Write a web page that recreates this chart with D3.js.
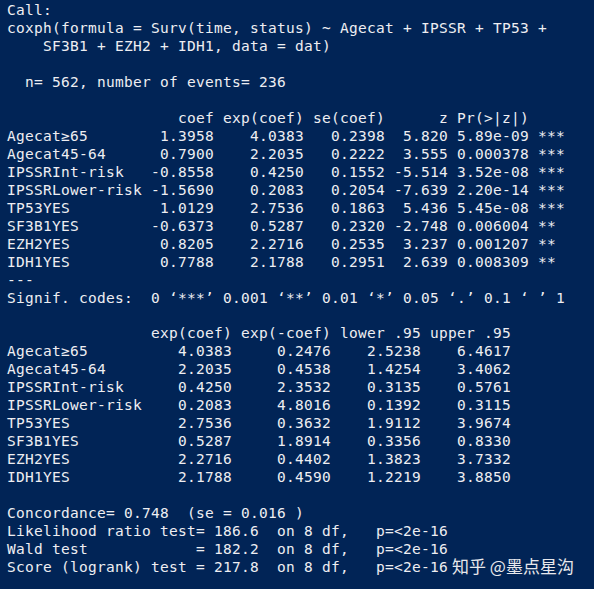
<!DOCTYPE html>
<html><head><meta charset="utf-8">
<script src="https://cdn.jsdelivr.net/npm/d3@7"></script>
<style>body{margin:0;background:#012456;}</style>
</head><body><div id="canvas"></div>
<script>
// coefficient table
const terms = ["Agecat≥65","Agecat45-64","IPSSRInt-risk","IPSSRLower-risk","TP53YES","SF3B1YES","EZH2YES","IDH1YES"];
const coef = ["1.3958","0.7900","-0.8558","-1.5690","1.0129","-0.6373","0.8205","0.7788"];
const expCoef = ["4.0383","2.2035","0.4250","0.2083","2.7536","0.5287","2.2716","2.1788"];
const seCoef = ["0.2398","0.2222","0.1552","0.2054","0.1863","0.2320","0.2535","0.2951"];
const zVal = ["5.820","3.555","-5.514","-7.639","5.436","-2.748","3.237","2.639"];
const pVal = ["5.89e-09","0.000378","3.52e-08","2.20e-14","5.45e-08","0.006004","0.001207","0.008309"];
const stars = ["***","***","***","***","***","**","**","**"];
// confidence table
const expNeg = ["0.2476","0.4538","2.3532","4.8016","0.3632","1.8914","0.4402","0.4590"];
const lower95 = ["2.5238","1.4254","0.3135","0.1392","1.9112","0.3356","1.3823","1.2219"];
const upper95 = ["6.4617","3.4062","0.5761","0.3115","3.9674","0.8330","3.7332","3.8850"];

const cellW = 9, lineH = 17.97, x0 = 7, y0 = 15;
const lp = (s, w) => " ".repeat(Math.max(0, w - s.length)) + s;
const rp = (s, w) => s + " ".repeat(Math.max(0, w - s.length));

const lines = ["Call:",
  "coxph(formula = Surv(time, status) ~ Agecat + IPSSR + TP53 +",
  "    SF3B1 + EZH2 + IDH1, data = dat)", "",
  "  n= 562, number of events= 236 ", "",
  rp("", 15) + " " + lp("coef", 7) + " " + lp("exp(coef)", 9) + " " + lp("se(coef)", 8) + " " + lp("z", 6) + " " + lp("Pr(>|z|)", 8)];
terms.forEach((t, i) => lines.push(rp(t, 15) + " " + lp(coef[i], 7) + " " + lp(expCoef[i], 9) + " " +
  lp(seCoef[i], 8) + " " + lp(zVal[i], 6) + " " + lp(pVal[i], 8) + " " + stars[i]));
lines.push("---", "Signif. codes:  0 ‘***’ 0.001 ‘**’ 0.01 ‘*’ 0.05 ‘.’ 0.1 ‘ ’ 1", "",
  rp("", 15) + " " + lp("exp(coef)", 9) + " " + lp("exp(-coef)", 10) + " " + lp("lower .95", 9) + " " + lp("upper .95", 9));
terms.forEach((t, i) => lines.push(rp(t, 15) + " " + lp(expCoef[i], 9) + " " + lp(expNeg[i], 10) + " " +
  lp(lower95[i], 9) + " " + lp(upper95[i], 9)));
lines.push("", "Concordance= 0.748  (se = 0.016 )",
  "Likelihood ratio test= 186.6  on 8 df,   p=<2e-16",
  "Wald test            = 182.2  on 8 df,   p=<2e-16",
  "Score (logrank) test = 217.8  on 8 df,   p=<2e-16");

const svg = d3.select('#canvas').append('svg')
  .attr('width', 594).attr('height', 589)
  .style('display', 'block');
svg.append('rect').attr('width', 594).attr('height', 589).attr('fill', '#012456');

// one tspan per character keeps the console grid exact
const g = svg.append('g')
  .style('font-family', "'DejaVu Sans Mono', monospace")
  .style('font-size', '14.5px')
  .style('fill', '#eeeef2');

g.selectAll('text').data(lines).enter().append('text')
  .attr('y', (d, i) => y0 + i * lineH)
  .each(function(d) {
    d3.select(this).selectAll('tspan')
      .data([...d].map((c, j) => ({c, j})).filter(o => o.c !== ' '))
      .enter().append('tspan')
      .attr('x', o => x0 + o.j * cellW)
      .text(o => o.c);
  });

svg.append('text')
  .attr('x', 452).attr('y', 573)
  .style('font-family', "'Noto Sans CJK SC', sans-serif")
  .style('font-size', '17px')
  .style('fill', '#e8e8ec')
  .text('知乎 @墨点星沟');
</script></body></html>
